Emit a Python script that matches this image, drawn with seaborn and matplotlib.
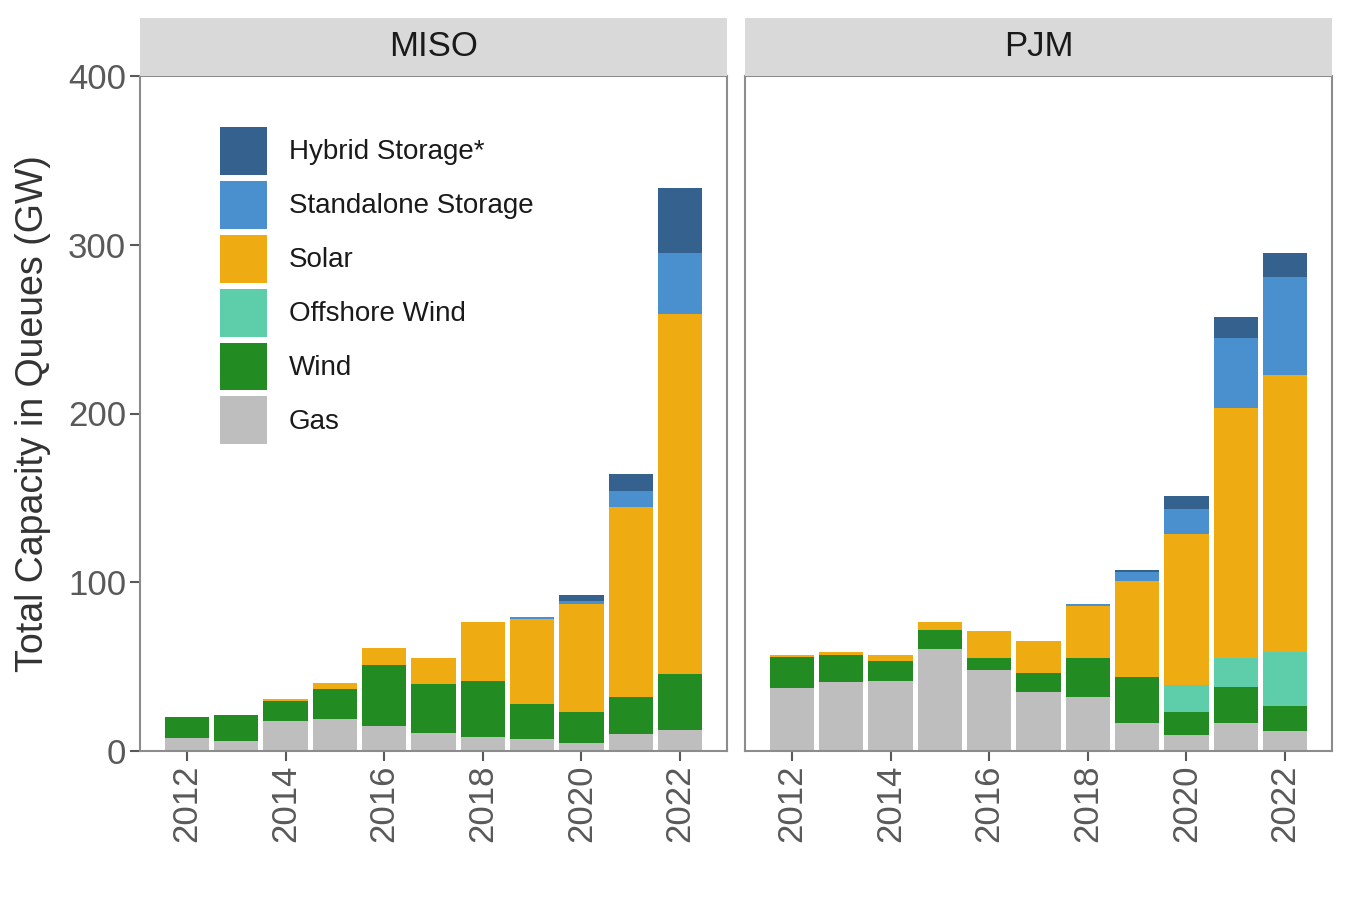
import numpy as np
import matplotlib
matplotlib.use("Agg")
import matplotlib.pyplot as plt
from matplotlib.patches import Patch
import pandas as pd
import seaborn as sns

years = list(range(2012, 2023))
techs = ["Hybrid Storage*", "Standalone Storage", "Solar", "Offshore Wind", "Wind", "Gas"]
colors = ["#35618F", "#4A90CF", "#EEAB12", "#5ECDA9", "#228B22", "#BEBEBE"]

# values in GW (layer heights, bottom layer = gas)
miso_gas = [7.5, 6, 18, 18.7, 14.8, 10.4, 8.1, 7.3, 4.5, 9.9, 12.4]
miso_wind = [12.8, 15.3, 11.4, 18.3, 36.1, 29.1, 33.3, 20.7, 18.8, 22.2, 33.2]
miso_offshore = [0, 0, 0, 0, 0, 0, 0, 0, 0, 0, 0]
miso_solar = [0, 0, 1.2, 3.4, 9.9, 15.9, 34.9, 50.5, 64.1, 112.3, 213.4]
miso_standalone = [0, 0, 0, 0, 0, 0, 0, 1.0, 1.5, 9.4, 35.9]
miso_hybrid = [0, 0, 0, 0, 0, 0, 0, 0, 3.5, 10.3, 39.0]

pjm_gas = [37.5, 41, 41.4, 60.4, 47.9, 34.7, 32.1, 16.4, 9.5, 16.4, 11.8]
pjm_wind = [18.3, 15.8, 11.9, 11.2, 7.5, 11.3, 22.9, 27.6, 13.4, 21.6, 15.0]
pjm_offshore = [0, 0, 0, 0, 0, 0, 0, 0, 16.1, 17.2, 31.6]
pjm_solar = [1.0, 2.0, 3.3, 4.7, 15.6, 19.1, 31.2, 56.6, 89.6, 147.9, 164.5]
pjm_standalone = [0, 0, 0, 0, 0, 0, 0.8, 5.5, 14.6, 41.4, 57.8]
pjm_hybrid = [0, 0, 0, 0, 0, 0, 0, 1.0, 7.9, 12.5, 14.7]

regions = {
    "MISO": [miso_hybrid, miso_standalone, miso_solar, miso_offshore, miso_wind, miso_gas],
    "PJM": [pjm_hybrid, pjm_standalone, pjm_solar, pjm_offshore, pjm_wind, pjm_gas],
}

rows = []
for reg, series in regions.items():
    for tech, vals in zip(techs, series):
        for yr, v in zip(years, vals):
            rows.append({"region": reg, "year": yr, "tech": tech, "gw": v})
df = pd.DataFrame(rows)

sns.set_style("white")
plt.rcParams["font.family"] = ["Liberation Sans", "DejaVu Sans"]

fig = plt.figure(figsize=(13.5, 9.01), dpi=100)
lefts = [140 / 1350, 745 / 1350]
width = 587 / 1350
bottom = 1 - 751 / 901
height = (751 - 76) / 901
strip_h = 58 / 901

axes = []
for i, reg in enumerate(["MISO", "PJM"]):
    ax = fig.add_axes([lefts[i], bottom, width, height])
    sns.histplot(data=df[df.region == reg], x="year", weights="gw", hue="tech",
                 hue_order=techs, palette=colors, multiple="stack", discrete=True,
                 shrink=0.9, alpha=1, linewidth=0, legend=False, ax=ax)
    ax.set_xlim(2011.05, 2022.95)
    ax.set_ylim(0, 400)
    ax.set_xticks([2012, 2014, 2016, 2018, 2020, 2022])
    ax.set_yticks([0, 100, 200, 300, 400])
    ax.tick_params(axis="x", labelrotation=90)
    ax.tick_params(length=7, width=1.5, color="#595959", labelcolor="#595959",
                   labelsize=25, pad=3, left=True, bottom=True)
    for s in ax.spines.values():
        s.set_color("#8C8C8C")
        s.set_linewidth(1.5)
    ax.set_xlabel("")
    if i == 0:
        ax.set_ylabel("Total Capacity in Queues (GW)", fontsize=27, color="#333333")
        ax.yaxis.set_label_coords(-0.152, 0.5)
    else:
        ax.set_ylabel("")
        ax.set_yticklabels([])
        ax.tick_params(axis="y", length=0)
    sax = fig.add_axes([lefts[i], bottom + height, width, strip_h])
    sax.set_facecolor("#D9D9D9")
    sax.set_xticks([])
    sax.set_yticks([])
    for s in sax.spines.values():
        s.set_visible(False)
    sax.text(0.5, 0.5, reg, ha="center", va="center", fontsize=25, color="#1A1A1A",
             transform=sax.transAxes)
    axes.append(ax)

handles = [Patch(facecolor=c, edgecolor="none", label=t) for t, c in zip(techs, colors)]
axes[0].legend(handles=handles, loc="upper left", bbox_to_anchor=(0.1365, 0.925),
               frameon=False, fontsize=20, handlelength=1.69, handleheight=2.28,
               labelspacing=0.216, handletextpad=0.79, borderpad=0, borderaxespad=0,
               labelcolor="#1A1A1A")

fig.savefig("out.png", dpi=100)
